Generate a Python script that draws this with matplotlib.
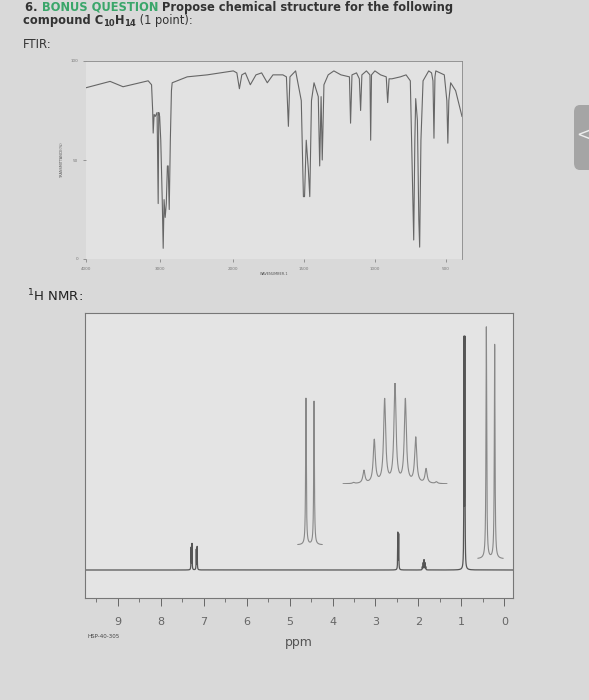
import numpy as np
import matplotlib.pyplot as plt
from matplotlib.patches import FancyBboxPatch

# FTIR trace: wavenumber (cm-1) and transmittance (%)
ir_wn = [4000, 3673, 3497, 3156, 3110, 3095, 3088, 3075, 3060, 3035, 3020, 3012, 3000, 2985,
         2965, 2952, 2940, 2925, 2910, 2895, 2884, 2870, 2855, 2840, 2830, 2626, 2354, 2000,
         1975, 1957, 1940, 1915, 1880, 1840, 1800, 1760, 1720, 1650, 1625, 1611, 1600, 1560,
         1520, 1505, 1497, 1485, 1470, 1460, 1448, 1430, 1400, 1390, 1380, 1372, 1360, 1330,
         1290, 1240, 1180, 1172, 1162, 1130, 1110, 1101, 1092, 1060, 1035, 1030, 1024, 1000,
         960, 920, 910, 900, 880, 820, 780, 750, 735, 726, 718, 712, 700, 690, 684, 675, 660,
         620, 600, 590, 583, 576, 570, 540, 510, 492, 485, 478, 465, 430, 385]
ir_t = [86.5, 89.7, 87, 90, 88, 75, 63.6, 73, 72, 74, 28, 74, 72, 60,
        30, 5.4, 30, 21, 28, 47, 47, 25, 60, 85, 89, 92, 93, 95,
        94, 86, 93, 94, 88, 93, 94, 89, 93, 93, 92, 67, 92, 95,
        80, 31.5, 31.5, 60, 45, 31.5, 80, 89, 82, 47, 82, 50, 88, 93,
        95, 93, 92, 68.6, 93, 94, 91, 75, 93, 95, 93, 60, 93, 95,
        93, 92, 79, 91, 91, 92, 93, 90, 40, 9.6, 60, 81, 70, 20, 6, 60, 90,
        95, 94, 90, 61, 92, 95, 94, 93, 80, 58.5, 80, 89, 85, 72]

# 1H NMR peaks: ppm, height (arbitrary px units)
nmr_ppm = [7.29, 7.27, 7.17, 7.15, 2.48, 2.46, 1.91, 1.89, 1.87, 1.85, 1.83, 0.94, 0.92]
nmr_h = [22, 26, 20, 23, 37, 35, 3, 7, 10, 7, 3, 234, 228]

# expansions shown as insets
ins1_h = [98, 96]
ins2_h = [3, 38, 128, 248, 298, 248, 135, 43, 5]
ins3_h = [700, 647]

W, H = 589, 700
bg = '#d9d9d9'
fig = plt.figure(figsize=(W / 100, H / 100), dpi=100, facecolor=bg)
renderer = fig.canvas.get_renderer()


def rect(x0, y0, x1, y1):
    return [x0 / W, 1 - y1 / H, (x1 - x0) / W, (y1 - y0) / H]


def fx(x):
    return x / W


def fy(y):
    return 1 - y / H


def pieces(x, y, parts):
    # write text pieces one after another on a baseline; dy shifts subscripts
    for s, dy, kw in parts:
        t = fig.text(fx(x), fy(y + dy), s, va='baseline', **kw)
        x += t.get_window_extent(renderer).width


b = dict(fontsize=8.3, fontweight='bold', color='#333')
sub = dict(b, fontsize=6)
pieces(25, 11, [('6. ', 0, b), ('BONUS QUESTION ', 0, dict(b, color='#3aa66a')),
                ('Propose chemical structure for the following', 0, b)])
pieces(23, 24, [('compound C', 0, b), ('10', 1.5, sub), ('H', 0, b), ('14', 1.5, sub),
                (' (1 point):', 0, dict(fontsize=8.3, color='#333'))])
fig.text(fx(23), fy(44), 'FTIR:', fontsize=8.5, va='center', color='#333')
fig.text(fx(27), fy(296), '$^{1}$H NMR:', fontsize=9.5, va='center', color='#222')


# FTIR axes with the usual scale change at 2000 cm-1
def fwd(w):
    w = np.asarray(w, dtype=float)
    return np.where(w >= 2000, (4000 - w) / 2000 * 147, 147 + (2000 - w) / 1000 * 141.3)


def inv(u):
    u = np.asarray(u, dtype=float)
    return np.where(u <= 147, 4000 - u / 147 * 2000, 2000 - (u - 147) / 141.3 * 1000)


ax = fig.add_axes(rect(86, 61, 462, 259))
ax.set_facecolor('#e2e2e2')
ax.plot(ir_wn, ir_t, color='#666', lw=0.8)
ax.set_xscale('function', functions=(fwd, inv))
ax.set_xlim(385, 4000)
ax.set_ylim(0, 100)
ax.set_xticks([4000, 3000, 2000, 1500, 1000, 500])
ax.set_xticklabels(['4000', '3000', '2000', '1500', '1000', '500'], fontsize=3, color='#555')
ax.set_yticks([0, 50, 100])
ax.set_yticklabels(['0', '50', '100'], fontsize=3, color='#555')
ax.tick_params(length=2, width=0.5, colors='#777')
ax.set_xlabel('WAVENUMBER-1', fontsize=2.5, color='#555', labelpad=1)
ax.set_ylabel('TRANSMITTANCE(%)', fontsize=2.5, color='#555', labelpad=5)
for s in ax.spines.values():
    s.set_color('#888')
    s.set_linewidth(0.6)
ax.spines['left'].set_visible(False)
ax.spines['bottom'].set_visible(False)

# NMR main axes
nx = fig.add_axes(rect(85, 313, 513, 598))
nx.set_facecolor('#e4e4e4')
ppm = np.linspace(-0.3, 9.8, 8000)
spec = np.zeros_like(ppm)
for p, h in zip(nmr_ppm, nmr_h):
    spec += h / (1 + ((ppm - p) / 0.004) ** 2)
spec = np.minimum(spec, np.max(nmr_h))
nx.plot(ppm, spec, color='#555', lw=0.9)
nx.set_xlim(9.76, -0.2)
nx.set_ylim(-28, 257)
nx.set_xticks(range(10))
nx.set_xticks(np.arange(0, 9.6, 0.5), minor=True)
nx.set_xticklabels([str(i) for i in range(10)], fontsize=8, color='#555')
nx.set_yticks([])
nx.tick_params(axis='x', direction='out', length=6, width=0.7, colors='#666', pad=8)
nx.tick_params(axis='x', which='minor', length=3, width=0.6, colors='#666')
nx.set_xlabel('ppm', fontsize=9, color='#555', labelpad=6)
for s in nx.spines.values():
    s.set_color('#777')
    s.set_linewidth(0.8)
fig.text(fx(87), fy(636), 'HSP-40-305', fontsize=4, color='#444', va='center')


def inset(box, heights, width):
    a = fig.add_axes(rect(*box))
    a.set_axis_off()
    n = len(heights)
    xs = np.linspace(-1, n, 1500)
    y = np.zeros_like(xs)
    for i, h in enumerate(heights):
        y += h / (1 + ((xs - i) / width) ** 2)
    a.plot(xs, y, color='#888', lw=0.8)
    a.set_xlim(-1.6, n + 0.6)
    a.set_ylim(0, max(heights) * 1.01)
    return a


inset((293, 397, 327, 545), ins1_h, 0.05)
inset((337, 383, 453, 484), ins2_h, 0.12)
inset((473, 325, 508, 559), ins3_h, 0.05)

# side tab of the screenshot
tab = FancyBboxPatch((fx(574), fy(170)), fx(20), fy(105) - fy(170),
                     boxstyle='round,pad=0,rounding_size=0.01', transform=fig.transFigure,
                     facecolor='#a5a5a5', edgecolor='none')
fig.patches.append(tab)
fig.text(fx(583), fy(135), '<', fontsize=12, color='#eee', va='center', ha='center')

fig.savefig('out.png', dpi=100, facecolor=bg)
